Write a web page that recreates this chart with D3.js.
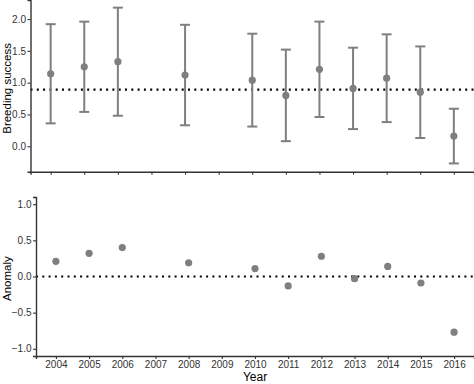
<!DOCTYPE html>
<html><head><meta charset="utf-8">
<script src="https://cdn.jsdelivr.net/npm/d3@7"></script>
<style>body{margin:0;background:#fff}svg{display:block}text{font-family:"Liberation Sans",Arial,sans-serif}</style>
</head><body>
<svg id="c" width="474" height="384"></svg>
<script>
const years = [2004,2005,2006,2008,2010,2011,2012,2013,2014,2015,2016];
const success = [1.14,1.25,1.33,1.12,1.04,0.80,1.21,0.91,1.07,0.85,0.16];
const lower = [0.36,0.54,0.48,0.33,0.31,0.08,0.46,0.27,0.38,0.13,-0.27];
const upper = [1.92,1.96,2.18,1.91,1.77,1.52,1.96,1.55,1.76,1.57,0.59];
const anomaly = [0.21,0.32,0.40,0.19,0.11,-0.13,0.28,-0.03,0.14,-0.09,-0.77];
const refLine = 0.89;
const xTicks = d3.range(2004,2017);
const topTicks = [0.0,0.5,1.0,1.5,2.0];
const botTicks = [-1.0,-0.5,0.0,0.5,1.0];

const svg = d3.select("#c");
const grey = "#7f7f7f", axisCol = "#333";
const fmt = d => (d<0?"\u2212":"") + Math.abs(d).toFixed(1);

// top panel
const xT = d3.scaleLinear().domain([2003.4,2016.6]).range([30.5,474]);
const yT = d3.scaleLinear().domain([-0.4,2.3]).range([171.7,0]);
const gT = svg.append("g");
gT.append("line").attr("x1",xT(2003.4)).attr("x2",xT(2016.6)).attr("y1",yT(refLine)).attr("y2",yT(refLine))
  .attr("stroke","#000").attr("stroke-width",2.2).attr("stroke-dasharray","2,4.3");
const eb = gT.selectAll("g.eb").data(years).join("g");
eb.append("line").attr("x1",(d)=>xT(d)).attr("x2",d=>xT(d)).attr("y1",(d,i)=>yT(lower[i])).attr("y2",(d,i)=>yT(upper[i]))
  .attr("stroke",grey).attr("stroke-width",2);
eb.append("line").attr("x1",d=>xT(d)-5).attr("x2",d=>xT(d)+5).attr("y1",(d,i)=>yT(lower[i])).attr("y2",(d,i)=>yT(lower[i]))
  .attr("stroke",grey).attr("stroke-width",2);
eb.append("line").attr("x1",d=>xT(d)-5).attr("x2",d=>xT(d)+5).attr("y1",(d,i)=>yT(upper[i])).attr("y2",(d,i)=>yT(upper[i]))
  .attr("stroke",grey).attr("stroke-width",2);
eb.append("circle").attr("cx",d=>xT(d)).attr("cy",(d,i)=>yT(success[i])).attr("r",3.6).attr("fill",grey);

gT.append("g").attr("transform",`translate(${xT(2003.4)},0)`)
  .call(d3.axisLeft(yT).tickValues(topTicks).tickFormat(fmt).tickSize(3).tickPadding(1.5));
gT.append("g").attr("transform",`translate(0,${yT(-0.4)})`)
  .call(d3.axisBottom(xT).tickValues(xTicks).tickFormat("").tickSize(3));
gT.append("text").attr("transform",`translate(11,${yT(0.91)}) rotate(-90)`).attr("text-anchor","middle")
  .attr("font-size",11.5).attr("fill","#000").text("Breeding success");

// bottom panel
const xB = d3.scaleLinear().domain([2003.4,2016.6]).range([36,474]);
const yB = d3.scaleLinear().domain([-1.1,1.1]).range([356,197]);
const gB = svg.append("g");
gB.append("line").attr("x1",xB(2003.4)).attr("x2",xB(2016.6)).attr("y1",yB(0)).attr("y2",yB(0))
  .attr("stroke","#000").attr("stroke-width",2.2).attr("stroke-dasharray","2,4.3");
gB.selectAll("circle").data(years).join("circle").attr("cx",d=>xB(d)).attr("cy",(d,i)=>yB(anomaly[i])).attr("r",3.6).attr("fill",grey);
gB.append("g").attr("transform",`translate(${xB(2003.4)},0)`)
  .call(d3.axisLeft(yB).tickValues(botTicks).tickFormat(fmt).tickSize(3).tickPadding(1.5));
gB.append("g").attr("transform",`translate(0,${yB(-1.1)})`)
  .call(d3.axisBottom(xB).tickValues(xTicks).tickFormat(d3.format("d")).tickSize(3).tickPadding(2));
gB.append("text").attr("transform",`translate(11,${yB(-0.03)}) rotate(-90)`).attr("text-anchor","middle")
  .attr("font-size",11.5).attr("fill","#000").text("Anomaly");
gB.append("text").attr("x",(xB(2003.4)+474)/2).attr("y",381).attr("text-anchor","middle")
  .attr("font-size",12).attr("fill","#000").text("Year");

svg.selectAll(".domain").attr("stroke",axisCol).attr("stroke-width",1.4);
svg.selectAll(".tick line").attr("stroke",axisCol).attr("stroke-width",1.1);
svg.selectAll(".tick text").attr("font-size",10).attr("fill","#333").style("font-family","'Liberation Sans',Arial,sans-serif");
</script>
</body></html>
